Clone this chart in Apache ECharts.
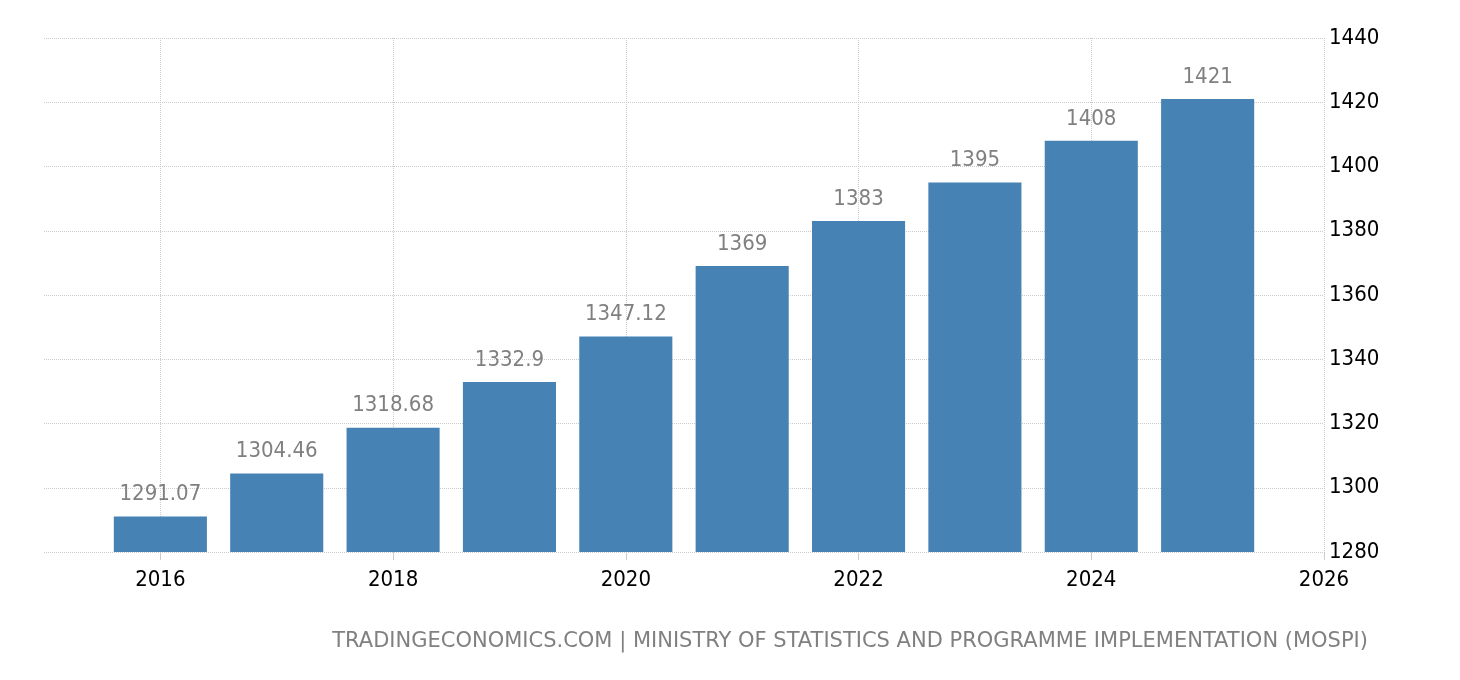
<!DOCTYPE html>
<html>
<head>
<meta charset="utf-8">
<script src="https://cdn.jsdelivr.net/npm/echarts@6/dist/echarts.min.js"></script>
<style>
    html, body { margin: 0; padding: 0; background: #fff; }
    #main { width: 1460px; height: 680px; }
</style>
</head>
<body>
<div id="main"></div>
<script>
var years = ['2015', '2016', '2017', '2018', '2019', '2020', '2021', '2022', '2023', '2024', '2025', '2026'];
var population = ['-', 1291.07, 1304.46, 1318.68, 1332.9, 1347.12, 1369, 1383, 1395, 1408, 1421, '-'];
var sourceText = 'TRADINGECONOMICS.COM | MINISTRY OF STATISTICS AND PROGRAMME IMPLEMENTATION (MOSPI)';

var font = 'DejaVu Sans Condensed';
// only even years get a label, tick and grid line
var evenYear = function (index) {
    return index % 2 === 1;
};

var myChart = echarts.init(document.getElementById('main'));
var option = {
    backgroundColor: '#fff',
    animation: false,
    grid: {
        left: 44,
        right: 136,
        top: 38,
        bottom: 128
    },
    xAxis: {
        type: 'category',
        boundaryGap: false,
        data: years,
        axisLine: { show: false },
        axisTick: {
            show: true,
            interval: evenYear,
            length: 8,
            lineStyle: { color: '#ccc' }
        },
        axisLabel: {
            interval: evenYear,
            color: '#000',
            fontFamily: font,
            fontSize: 22,
            margin: 17
        },
        splitLine: {
            show: true,
            interval: evenYear,
            lineStyle: { color: '#ccc', type: 'dotted' }
        }
    },
    yAxis: {
        type: 'value',
        position: 'right',
        min: 1280,
        max: 1440,
        interval: 20,
        axisLine: { show: false },
        axisTick: { show: false },
        axisLabel: {
            color: '#000',
            fontFamily: font,
            fontSize: 22,
            margin: 5,
            formatter: function (v) { return String(v); }
        },
        splitLine: {
            lineStyle: { color: '#ccc', type: 'dotted' }
        }
    },
    series: [
        {
            type: 'bar',
            data: population,
            barWidth: '80%',
            itemStyle: { color: '#4682b4' },
            label: {
                show: true,
                position: 'top',
                distance: 11,
                color: '#808080',
                fontFamily: font,
                fontSize: 22
            }
        }
    ],
    graphic: [
        {
            type: 'text',
            right: 92,
            top: 631,
            style: {
                text: sourceText,
                fill: '#808080',
                font: '21px "DejaVu Sans"'
            }
        }
    ]
};
myChart.setOption(option);
</script>
</body>
</html>
